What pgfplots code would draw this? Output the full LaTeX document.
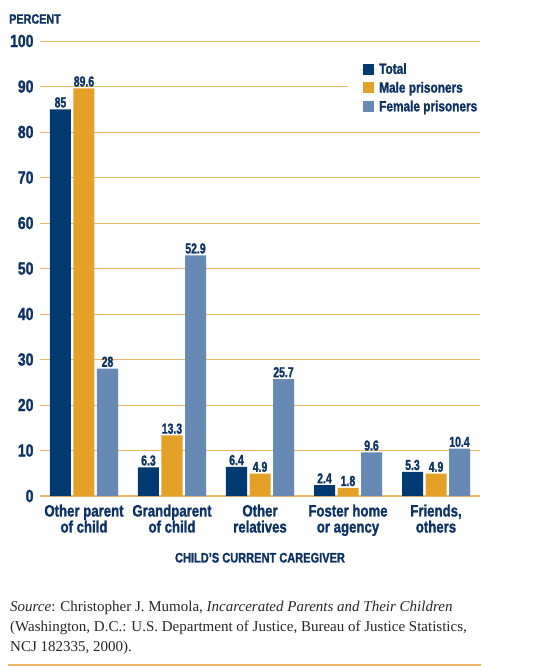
\documentclass[border=0pt]{standalone}
\usepackage{pgfplots}
\pgfplotsset{compat=1.18}
\usepackage{fontspec}
\setmainfont{Liberation Serif}
\newfontfamily\cond{Liberation Sans}[FakeStretch=0.8, FakeBold=1.3]
\newfontfamily\condn{Liberation Sans}[FakeStretch=0.72, FakeBold=1.3]
\definecolor{navy}{RGB}{0,58,112}
\definecolor{gold}{RGB}{229,160,40}
\definecolor{steel}{RGB}{103,138,180}
\definecolor{txt}{RGB}{12,50,100}
\definecolor{gridor}{RGB}{236,184,104}
\begin{document}
\begin{tikzpicture}
\path[use as bounding box] (0,0) rectangle (543pt,-666pt);
\node[anchor=west, text=txt, font=\cond\bfseries\fontsize{13.5}{14}\selectfont, inner sep=0] at (9pt,-19pt) {PERCENT};
\begin{axis}[
  at={(40pt,-496pt)}, anchor=south west,
  scale only axis, width=440pt, height=455pt,
  xmin=-0.5, xmax=4.5, ymin=0, ymax=100,
  ytick={10,20,...,100},
  extra y ticks={0},
  extra y tick style={grid style={draw=gridor, line width=2pt}},
  ymajorgrids, grid style={draw=gridor, line width=1pt},
  axis line style={draw=none},
  major tick length=0pt,
  xtick=data,
  xticklabels={{Other parent\\of child}, {Grandparent\\of child}, {Other\\relatives}, {Foster home\\or agency}, {Friends,\\others}},
  x tick label style={align=center, text=txt, font=\cond\bfseries\fontsize{16.5}{16}\selectfont, yshift=-5pt},
  y tick label style={text=txt, font=\cond\bfseries\fontsize{17.5}{16}\selectfont, xshift=-3pt},
  /pgf/number format/assume math mode=true,
  xlabel={CHILD’S CURRENT CAREGIVER},
  xlabel style={text=txt, font=\cond\bfseries\fontsize{13.8}{14}\selectfont, yshift=-10pt},
  ybar=2.5pt, bar width=21pt,
  nodes near coords,
  nodes near coords style={text=txt, font=\condn\bfseries\fontsize{14.5}{14}\selectfont, inner sep=1.5pt},
  legend style={at={(0.7,0.965)}, anchor=north west, draw=none, fill=white,
    font=\cond\bfseries\fontsize{14.8}{16}\selectfont, text=txt,
    row sep=2.5pt, inner xsep=12pt, inner ysep=4pt},
  legend cell align=left,
  legend image code/.code={\fill[#1] (3pt,-5.5pt) rectangle (14pt,5.5pt); \path (0pt,0pt) -- (17pt,0pt);},
]
\addplot[fill=navy, draw=none] coordinates {(0,85) (1,6.3) (2,6.4) (3,2.4) (4,5.3)};
\addplot[fill=gold, draw=none] coordinates {(0,89.6) (1,13.3) (2,4.9) (3,1.8) (4,4.9)};
\addplot[fill=steel, draw=none] coordinates {(0,28) (1,52.9) (2,25.7) (3,9.6) (4,10.4)};
\legend{Total, Male prisoners, Female prisoners}
\end{axis}
\node[anchor=north west, inner sep=0, align=left, font=\fontsize{15}{20}\selectfont, text=black!85] at (10pt,-601pt)
  {\textit{Source}: Christopher J. Mumola, \textit{Incarcerated Parents and Their Children}\\
   (Washington, D.C.: U.S. Department of Justice, Bureau of Justice Statistics,\\
   NCJ 182335, 2000).};
\draw[gridor, line width=1.2pt] (8pt,-665pt) -- (481pt,-665pt);
\end{tikzpicture}
\end{document}
